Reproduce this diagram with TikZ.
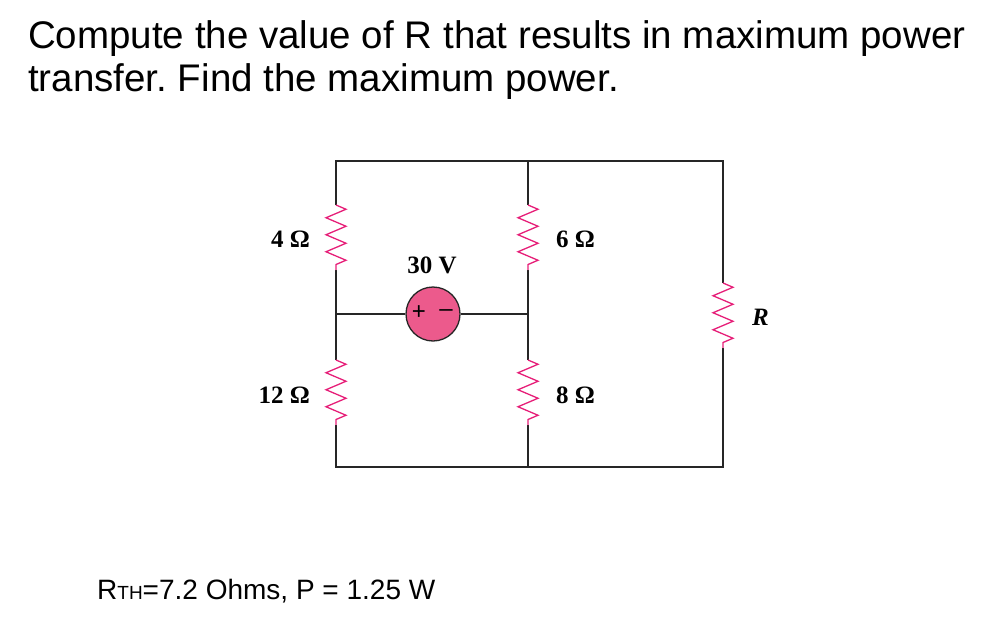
\documentclass[tikz,border=0pt]{standalone}
\usepackage{fontspec}
\setmainfont{Liberation Sans}
\newfontfamily\timesf{Liberation Serif}
\usetikzlibrary{decorations.pathmorphing}
\definecolor{respink}{RGB}{230,30,120}
\definecolor{srcpink}{RGB}{236,90,140}
\tikzset{
  wire/.style={line width=1.3pt, black!85},
  res/.style={line width=1.3pt, respink, decorate,
    decoration={zigzag, segment length=17pt, amplitude=10pt}},
  lbl/.style={font=\timesf\bfseries\fontsize{25}{27}\selectfont, inner sep=0pt},
}
\frenchspacing
\begin{document}
\begin{tikzpicture}[x=1pt, y=-1pt]
\useasboundingbox (0,0) rectangle (996,621);
\node[anchor=base west, inner sep=0pt, font=\fontsize{38.5}{44}\selectfont] (title) at (28,48)
  {Compute the value of R that results in maximum power};
\node[anchor=base west, inner sep=0pt, font=\fontsize{38.5}{44}\selectfont] (title2) at (28,91)
  {transfer. Find the maximum power.};
% corners
\coordinate (tl) at (336,161); \coordinate (tm) at (528,161); \coordinate (tr) at (723,161);
\coordinate (bl) at (336,467); \coordinate (bm) at (528,467); \coordinate (br) at (723,467);
\coordinate (ml) at (336,314); \coordinate (mm) at (528,314);
% resistor ends
\coordinate (r4a) at (336,205); \coordinate (r4b) at (336,270);
\coordinate (r12a) at (336,360); \coordinate (r12b) at (336,425);
\coordinate (r6a) at (528,205); \coordinate (r6b) at (528,270);
\coordinate (r8a) at (528,360); \coordinate (r8b) at (528,425);
\coordinate (rra) at (723,283); \coordinate (rrb) at (723,348);
% source
\node[circle, draw=black!85, line width=1.3pt, fill=srcpink, minimum size=54pt, inner sep=0pt] (src) at (433,314) {};
\node[font=\fontsize{24}{24}\selectfont, inner sep=0pt] (plus) at (419,313) {+};
\node[font=\fontsize{24}{24}\selectfont, inner sep=0pt] (minus) at (446,313) {\textendash};
% wires
\draw[wire] (r4a) -- (tl) -- (tm) -- (tr) -- (rra);
\draw[wire] (tm) -- (r6a);
\draw[wire] (r4b) -- (ml) -- (r12a);
\draw[wire] (r6b) -- (mm) -- (r8a);
\draw[wire] (r12b) -- (bl) -- (bm) -- (br) -- (rrb);
\draw[wire] (bm) -- (r8b);
\draw[wire] (ml) -- (src.west);
\draw[wire] (src.east) -- (mm);
% resistors
\draw[res] (r4a) -- (r4b);
\draw[res] (r12a) -- (r12b);
\draw[res] (r6a) -- (r6b);
\draw[res] (r8a) -- (r8b);
\draw[res] (rra) -- (rrb);
% labels
\node[lbl, anchor=east] (l4) at (310,239) {4 Ω};
\node[lbl, anchor=east] (l12) at (310,395) {12 Ω};
\node[lbl, anchor=west] (l6) at (556,239) {6 Ω};
\node[lbl, anchor=west] (l8) at (556,395) {8 Ω};
\node[lbl] (l30) at (432,265) {30 V};
\node[lbl, anchor=west] (lR) at (752,317) {\itshape R};
\node[anchor=base west, inner sep=0pt, font=\fontsize{28}{32}\selectfont] (ans) at (97,599)
  {R{\fontsize{19}{22}\selectfont TH}=7.2 Ohms, P = 1.25 W};
\end{tikzpicture}
\end{document}
